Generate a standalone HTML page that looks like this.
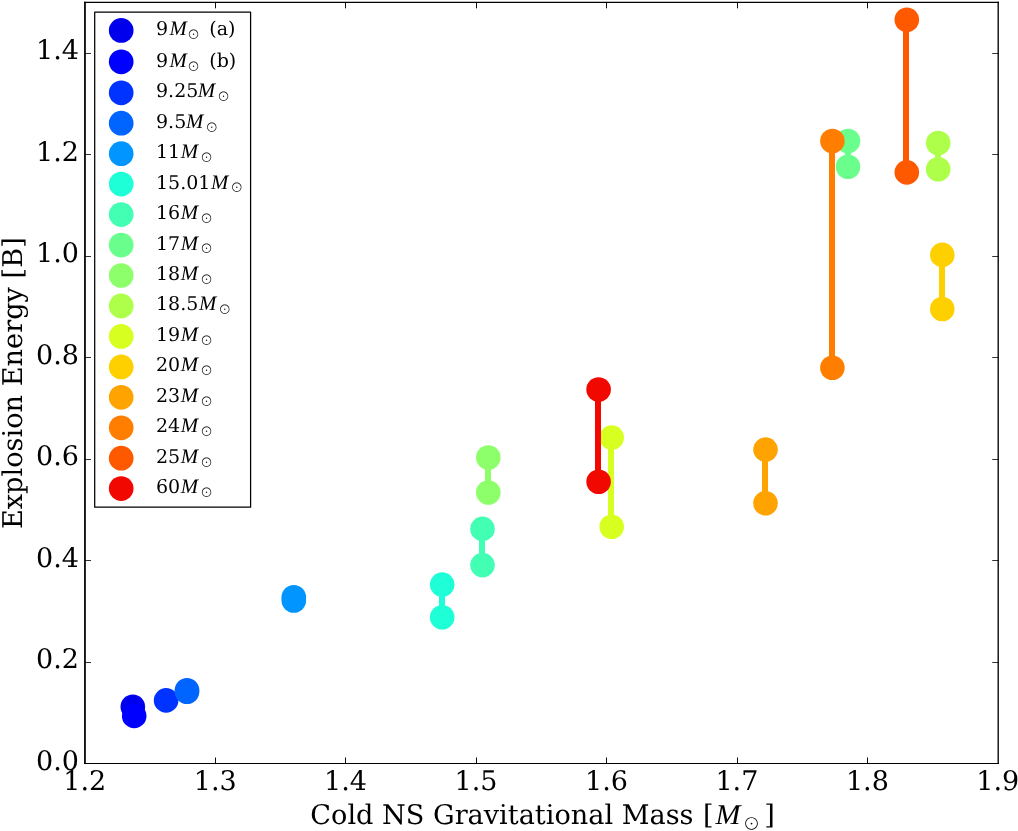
<!DOCTYPE html>
<html lang="en">
<head>
<meta charset="utf-8">
<title>Explosion Energy vs Cold NS Gravitational Mass</title>
<style>
html,body{margin:0;padding:0;background:#fff;}
body{width:1018px;height:831px;overflow:hidden;}
svg{display:block;}
text{font-family:"DejaVu Serif", "Liberation Serif", serif;fill:#000;text-rendering:geometricPrecision;}
.m{font-family:"Liberation Serif", "DejaVu Serif", serif;font-style:italic;}
</style>
</head>
<body>
<svg width="1018" height="831" viewBox="0 0 1018 831">
<rect x="0" y="0" width="1018" height="831" fill="#ffffff"/>
<g id="data">
<circle cx="132.8" cy="706.7" r="12.3" fill="#0000ed"/>
<circle cx="134.2" cy="715.9" r="12.3" fill="#0000ff"/>
<circle cx="166.1" cy="700.4" r="12.3" fill="#0033ff"/>
<line x1="187.0" y1="690.2" x2="187.0" y2="691.8" stroke="#0064ff" stroke-width="6.0"/><circle cx="187.0" cy="690.2" r="12.3" fill="#0064ff"/><circle cx="187.0" cy="691.8" r="12.3" fill="#0064ff"/>
<line x1="293.0" y1="597.3" x2="293.0" y2="600.5" stroke="#0095ff" stroke-width="6.0"/><circle cx="293.8" cy="597.3" r="12.3" fill="#0095ff"/><circle cx="293.8" cy="600.5" r="12.3" fill="#0095ff"/>
<line x1="442.0" y1="584.6" x2="442.0" y2="617.3" stroke="#1fffd7" stroke-width="6.0"/><circle cx="442.2" cy="584.6" r="12.3" fill="#1fffd7"/><circle cx="442.2" cy="617.3" r="12.3" fill="#1fffd7"/>
<line x1="482.0" y1="528.9" x2="482.0" y2="565.1" stroke="#43ffb4" stroke-width="6.0"/><circle cx="482.5" cy="528.9" r="12.3" fill="#43ffb4"/><circle cx="482.5" cy="565.1" r="12.3" fill="#43ffb4"/>
<line x1="848.0" y1="141.0" x2="848.0" y2="166.8" stroke="#6aff8d" stroke-width="6.0"/><circle cx="848.0" cy="141.0" r="12.3" fill="#6aff8d"/><circle cx="848.0" cy="166.8" r="12.3" fill="#6aff8d"/>
<line x1="488.0" y1="457.5" x2="488.0" y2="492.5" stroke="#8dff6a" stroke-width="6.0"/><circle cx="488.3" cy="457.5" r="12.3" fill="#8dff6a"/><circle cx="488.3" cy="492.5" r="12.3" fill="#8dff6a"/>
<line x1="938.0" y1="143.0" x2="938.0" y2="169.3" stroke="#adff49" stroke-width="6.0"/><circle cx="938.2" cy="143.0" r="12.3" fill="#adff49"/><circle cx="938.2" cy="169.3" r="12.3" fill="#adff49"/>
<line x1="611.0" y1="437.6" x2="611.0" y2="526.8" stroke="#d7ff1f" stroke-width="6.0"/><circle cx="611.7" cy="437.6" r="12.3" fill="#d7ff1f"/><circle cx="611.7" cy="526.8" r="12.3" fill="#d7ff1f"/>
<line x1="942.0" y1="254.9" x2="942.0" y2="309.0" stroke="#ffd000" stroke-width="6.0"/><circle cx="942.3" cy="254.9" r="12.3" fill="#ffd000"/><circle cx="942.3" cy="309.0" r="12.3" fill="#ffd000"/>
<line x1="765.0" y1="449.6" x2="765.0" y2="503.3" stroke="#ffa300" stroke-width="6.0"/><circle cx="765.5" cy="449.6" r="12.3" fill="#ffa300"/><circle cx="765.5" cy="503.3" r="12.3" fill="#ffa300"/>
<line x1="832.0" y1="141.0" x2="832.0" y2="367.8" stroke="#ff7e00" stroke-width="6.0"/><circle cx="832.4" cy="141.0" r="12.3" fill="#ff7e00"/><circle cx="832.4" cy="367.8" r="12.3" fill="#ff7e00"/>
<line x1="906.0" y1="19.7" x2="906.0" y2="172.4" stroke="#ff5900" stroke-width="6.0"/><circle cx="906.8" cy="19.7" r="12.3" fill="#ff5900"/><circle cx="906.8" cy="172.4" r="12.3" fill="#ff5900"/>
<line x1="598.0" y1="389.5" x2="598.0" y2="481.7" stroke="#f10800" stroke-width="6.0"/><circle cx="598.6" cy="389.5" r="12.3" fill="#f10800"/><circle cx="598.6" cy="481.7" r="12.3" fill="#f10800"/>
</g>
<g id="axes" stroke="#000" fill="none">
<line x1="84.95" y1="1.7" x2="84.95" y2="764.1" stroke-width="1.75"/>
<line x1="998.2" y1="1.7" x2="998.2" y2="764.1" stroke-width="1.35"/>
<line x1="84.1" y1="2.35" x2="999" y2="2.35" stroke-width="1.3"/>
<line x1="84.1" y1="763.5" x2="999" y2="763.5" stroke-width="1.15"/>
<line x1="215.50" y1="763.50" x2="215.50" y2="757.50" stroke-width="0.95"/><line x1="215.50" y1="2.35" x2="215.50" y2="8.35" stroke-width="0.95"/>
<line x1="345.50" y1="763.50" x2="345.50" y2="757.50" stroke-width="0.95"/><line x1="345.50" y1="2.35" x2="345.50" y2="8.35" stroke-width="0.95"/>
<line x1="476.50" y1="763.50" x2="476.50" y2="757.50" stroke-width="0.95"/><line x1="476.50" y1="2.35" x2="476.50" y2="8.35" stroke-width="0.95"/>
<line x1="606.50" y1="763.50" x2="606.50" y2="757.50" stroke-width="0.95"/><line x1="606.50" y1="2.35" x2="606.50" y2="8.35" stroke-width="0.95"/>
<line x1="737.50" y1="763.50" x2="737.50" y2="757.50" stroke-width="0.95"/><line x1="737.50" y1="2.35" x2="737.50" y2="8.35" stroke-width="0.95"/>
<line x1="867.50" y1="763.50" x2="867.50" y2="757.50" stroke-width="0.95"/><line x1="867.50" y1="2.35" x2="867.50" y2="8.35" stroke-width="0.95"/>
<line x1="85.00" y1="662.50" x2="91.00" y2="662.50" stroke-width="0.8"/><line x1="998.20" y1="662.50" x2="992.20" y2="662.50" stroke-width="0.8"/>
<line x1="85.00" y1="560.50" x2="91.00" y2="560.50" stroke-width="0.8"/><line x1="998.20" y1="560.50" x2="992.20" y2="560.50" stroke-width="0.8"/>
<line x1="85.00" y1="459.50" x2="91.00" y2="459.50" stroke-width="0.8"/><line x1="998.20" y1="459.50" x2="992.20" y2="459.50" stroke-width="0.8"/>
<line x1="85.00" y1="357.50" x2="91.00" y2="357.50" stroke-width="0.8"/><line x1="998.20" y1="357.50" x2="992.20" y2="357.50" stroke-width="0.8"/>
<line x1="85.00" y1="256.50" x2="91.00" y2="256.50" stroke-width="0.8"/><line x1="998.20" y1="256.50" x2="992.20" y2="256.50" stroke-width="0.8"/>
<line x1="85.00" y1="154.50" x2="91.00" y2="154.50" stroke-width="0.8"/><line x1="998.20" y1="154.50" x2="992.20" y2="154.50" stroke-width="0.8"/>
<line x1="85.00" y1="53.50" x2="91.00" y2="53.50" stroke-width="0.8"/><line x1="998.20" y1="53.50" x2="992.20" y2="53.50" stroke-width="0.8"/>
</g>
<g id="xticks" font-size="27" text-anchor="middle">
<text x="84.8" y="789.5">1.2</text>
<text x="215.2" y="789.5">1.3</text>
<text x="345.6" y="789.5">1.4</text>
<text x="476.1" y="789.5">1.5</text>
<text x="606.5" y="789.5">1.6</text>
<text x="736.9" y="789.5">1.7</text>
<text x="867.4" y="789.5">1.8</text>
<text x="997.8" y="789.5">1.9</text>
</g>
<g id="yticks" font-size="27" text-anchor="end">
<text x="79.0" y="769.8">0.0</text>
<text x="79.0" y="668.3">0.2</text>
<text x="79.0" y="566.8">0.4</text>
<text x="79.0" y="465.3">0.6</text>
<text x="79.0" y="363.8">0.8</text>
<text x="79.0" y="262.3">1.0</text>
<text x="79.0" y="160.8">1.2</text>
<text x="79.0" y="59.3">1.4</text>
</g>
<g id="xlabel" font-size="27.14">
<text x="310.3" y="824.1">Cold NS Gravitational Mass</text>
<text x="703.0" y="824.1">[</text>
<text class="m" transform="translate(715.6,823.9) scale(1.05,1)" font-size="28.5">M</text>
<text x="742.9" y="829.7" font-size="17" font-weight="300" style="font-family:'Liberation Serif', 'Noto Sans CJK SC', sans-serif">⊙</text>
<text x="764.2" y="824.1">]</text>
</g>
<text id="ylabel" transform="translate(21.5,383.2) rotate(-90)" font-size="27.2" text-anchor="middle">Explosion Energy [B]</text>
<g id="legend">
<rect x="94.7" y="12.2" width="155.9" height="495.0" fill="#fff" stroke="#000" stroke-width="1.25" stroke-linejoin="round"/>
<circle cx="121.2" cy="30.4" r="12.35" fill="#0000ed"/><text x="156" y="34.9" font-size="19">9</text><text class="m" transform="translate(169.4,34.9) scale(1.015,1)" font-size="20.5">M</text><text x="187.2" y="38.8" font-size="12.6" font-weight="300" style="font-family:'Liberation Serif', 'Noto Sans CJK SC', sans-serif">⊙</text><text x="209.3" y="34.9" font-size="19">(a)</text>
<circle cx="121.2" cy="61.8" r="12.35" fill="#0000ff"/><text x="156" y="66.8" font-size="19">9</text><text class="m" transform="translate(169.4,66.8) scale(1.015,1)" font-size="20.5">M</text><text x="187.2" y="70.7" font-size="12.6" font-weight="300" style="font-family:'Liberation Serif', 'Noto Sans CJK SC', sans-serif">⊙</text><text x="209.3" y="66.8" font-size="19">(b)</text>
<circle cx="121.2" cy="92.8" r="12.35" fill="#0033ff"/><text x="156" y="97.2" font-size="19">9.25</text><text class="m" transform="translate(197.7,97.2) scale(1.015,1)" font-size="20.5">M</text><text x="217.2" y="101.1" font-size="12.6" font-weight="300" style="font-family:'Liberation Serif', 'Noto Sans CJK SC', sans-serif">⊙</text>
<circle cx="121.2" cy="123.2" r="12.35" fill="#0064ff"/><text x="156" y="127.7" font-size="19">9.5</text><text class="m" transform="translate(186.0,127.7) scale(1.015,1)" font-size="20.5">M</text><text x="205.5" y="131.6" font-size="12.6" font-weight="300" style="font-family:'Liberation Serif', 'Noto Sans CJK SC', sans-serif">⊙</text>
<circle cx="121.2" cy="153.7" r="12.35" fill="#0095ff"/><text x="156" y="158.1" font-size="19">11</text><text class="m" transform="translate(180.8,158.1) scale(1.015,1)" font-size="20.5">M</text><text x="200.3" y="162.0" font-size="12.6" font-weight="300" style="font-family:'Liberation Serif', 'Noto Sans CJK SC', sans-serif">⊙</text>
<circle cx="121.2" cy="184.1" r="12.35" fill="#1fffd7"/><text x="156" y="188.5" font-size="19">15.01</text><text class="m" transform="translate(211.0,188.5) scale(1.015,1)" font-size="20.5">M</text><text x="230.5" y="192.4" font-size="12.6" font-weight="300" style="font-family:'Liberation Serif', 'Noto Sans CJK SC', sans-serif">⊙</text>
<circle cx="121.2" cy="214.6" r="12.35" fill="#43ffb4"/><text x="156" y="219.0" font-size="19">16</text><text class="m" transform="translate(180.8,219.0) scale(1.015,1)" font-size="20.5">M</text><text x="200.3" y="222.9" font-size="12.6" font-weight="300" style="font-family:'Liberation Serif', 'Noto Sans CJK SC', sans-serif">⊙</text>
<circle cx="121.2" cy="245.1" r="12.35" fill="#6aff8d"/><text x="156" y="249.5" font-size="19">17</text><text class="m" transform="translate(180.8,249.5) scale(1.015,1)" font-size="20.5">M</text><text x="200.3" y="253.4" font-size="12.6" font-weight="300" style="font-family:'Liberation Serif', 'Noto Sans CJK SC', sans-serif">⊙</text>
<circle cx="121.2" cy="275.5" r="12.35" fill="#8dff6a"/><text x="156" y="279.9" font-size="19">18</text><text class="m" transform="translate(180.8,279.9) scale(1.015,1)" font-size="20.5">M</text><text x="200.3" y="283.8" font-size="12.6" font-weight="300" style="font-family:'Liberation Serif', 'Noto Sans CJK SC', sans-serif">⊙</text>
<circle cx="121.2" cy="305.9" r="12.35" fill="#adff49"/><text x="156" y="310.3" font-size="19">18.5</text><text class="m" transform="translate(198.9,310.3) scale(1.015,1)" font-size="20.5">M</text><text x="218.4" y="314.2" font-size="12.6" font-weight="300" style="font-family:'Liberation Serif', 'Noto Sans CJK SC', sans-serif">⊙</text>
<circle cx="121.2" cy="336.4" r="12.35" fill="#d7ff1f"/><text x="156" y="340.8" font-size="19">19</text><text class="m" transform="translate(180.8,340.8) scale(1.015,1)" font-size="20.5">M</text><text x="200.3" y="344.7" font-size="12.6" font-weight="300" style="font-family:'Liberation Serif', 'Noto Sans CJK SC', sans-serif">⊙</text>
<circle cx="121.2" cy="366.9" r="12.35" fill="#ffd000"/><text x="156" y="371.2" font-size="19">20</text><text class="m" transform="translate(180.8,371.2) scale(1.015,1)" font-size="20.5">M</text><text x="200.3" y="375.1" font-size="12.6" font-weight="300" style="font-family:'Liberation Serif', 'Noto Sans CJK SC', sans-serif">⊙</text>
<circle cx="121.2" cy="397.3" r="12.35" fill="#ffa300"/><text x="156" y="401.7" font-size="19">23</text><text class="m" transform="translate(180.8,401.7) scale(1.015,1)" font-size="20.5">M</text><text x="200.3" y="405.6" font-size="12.6" font-weight="300" style="font-family:'Liberation Serif', 'Noto Sans CJK SC', sans-serif">⊙</text>
<circle cx="121.2" cy="427.8" r="12.35" fill="#ff7e00"/><text x="156" y="432.1" font-size="19">24</text><text class="m" transform="translate(180.8,432.1) scale(1.015,1)" font-size="20.5">M</text><text x="200.3" y="436.0" font-size="12.6" font-weight="300" style="font-family:'Liberation Serif', 'Noto Sans CJK SC', sans-serif">⊙</text>
<circle cx="121.2" cy="458.2" r="12.35" fill="#ff5900"/><text x="156" y="462.6" font-size="19">25</text><text class="m" transform="translate(180.8,462.6) scale(1.015,1)" font-size="20.5">M</text><text x="200.3" y="466.5" font-size="12.6" font-weight="300" style="font-family:'Liberation Serif', 'Noto Sans CJK SC', sans-serif">⊙</text>
<circle cx="121.2" cy="488.6" r="12.35" fill="#f10800"/><text x="156" y="493.0" font-size="19">60</text><text class="m" transform="translate(180.8,493.0) scale(1.015,1)" font-size="20.5">M</text><text x="200.3" y="496.9" font-size="12.6" font-weight="300" style="font-family:'Liberation Serif', 'Noto Sans CJK SC', sans-serif">⊙</text>
</g>
</svg>
</body>
</html>
